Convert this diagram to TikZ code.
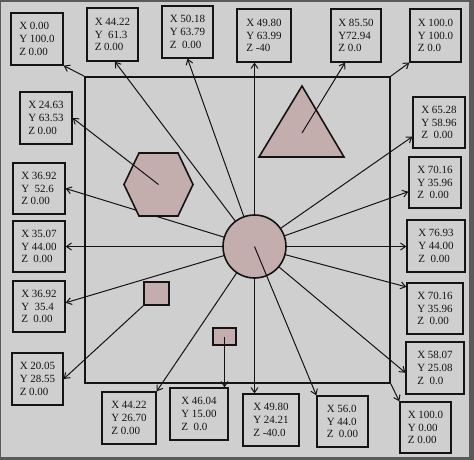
\documentclass[tikz,border=0pt]{standalone}
\usepackage{fontspec}
\setmainfont{Liberation Serif}
\usetikzlibrary{arrows.meta,calc}
\pgfdeclarelayer{bgl}
\pgfdeclarelayer{lines}
\pgfsetlayers{bgl,lines,main}
\definecolor{bggray}{RGB}{207,207,207}
\definecolor{edgegray}{RGB}{90,90,90}
\definecolor{shapefill}{RGB}{196,173,173}
\definecolor{ink}{RGB}{20,20,20}
\tikzset{
  box/.style={draw=ink, line width=1.3pt, fill=bggray, inner sep=0pt, align=left,
    font=\fontsize{11}{12.8}\selectfont, text=ink},
  arr/.style={draw=ink, line width=1pt, -{Straight Barb[length=5pt,width=7pt]}},
  shp/.style={draw=ink, line width=1.6pt, fill=shapefill},
}
\begin{document}
\begin{tikzpicture}[x=1pt,y=-1pt]
\useasboundingbox (0,0) rectangle (474,460);
\begin{pgfonlayer}{bgl}
\fill[edgegray] (0,0) rectangle (474,460);
\fill[bggray] (1,2) rectangle (469,457);
\end{pgfonlayer}
% main frame
\node[draw=ink, line width=1.7pt, inner sep=0pt, minimum width=305, minimum height=306] (frame) at (237.5,230) {};
% shapes
\node[shp, circle, inner sep=0pt, minimum size=63] (circ) at (254.5,246.5) {};
\coordinate (hexc) at (158.5,184.5);
\coordinate (tric) at (302,133);
\draw[shp] (124,184.5) -- (139,153) -- (178,153) -- (193,184.5) -- (178,216) -- (139,216) -- cycle;
\draw[shp] (302,86) -- (344,157) -- (259,157) -- cycle;
\node[shp, inner sep=0pt, minimum width=25, minimum height=23] (sq1) at (156.5,293.5) {};
\node[shp, inner sep=0pt, minimum width=23, minimum height=17] (sq2) at (224.5,336.5) {};
% boxes
\node[box, minimum width=52, minimum height=52] (b1) at (37,39) {X 0.00\\Y 100.0\\Z 0.00};
\node[box, minimum width=51, minimum height=53] (b2) at (112.5,34.5) {X 44.22\\Y~~61.3\\Z 0.00};
\node[box, minimum width=51, minimum height=52] (b3) at (187.5,32) {X 50.18\\Y 63.79\\Z~~0.00};
\node[box, minimum width=54, minimum height=53] (b4) at (264,35.5) {X 49.80\\Y 63.99\\Z -40};
\node[box, minimum width=50, minimum height=53] (b5) at (356,35.5) {X 85.50\\Y72.94\\Z 0.0};
\node[box, minimum width=51, minimum height=53] (b6) at (435.5,35.5) {X 100.0\\Y 100.0\\Z 0.0};
\node[box, minimum width=52, minimum height=52] (b7) at (46,118) {X 24.63\\Y 63.53\\Z 0.00};
\node[box, minimum width=52, minimum height=51] (b8) at (39,188.5) {X 36.92\\Y~~52.6\\Z 0.00};
\node[box, minimum width=52, minimum height=51] (b9) at (39,246.5) {X 35.07\\Y 44.00\\Z~~0.00};
\node[box, minimum width=52, minimum height=51] (b10) at (39,306.5) {X 36.92\\Y~~35.4\\Z~~0.00};
\node[box, minimum width=51, minimum height=52] (b11) at (37.5,379) {X 20.05\\Y 28.55\\Z 0.00};
\node[box, minimum width=52, minimum height=51] (b12) at (439,122.5) {X 65.28\\Y 58.96\\Z~~0.00};
\node[box, minimum width=52, minimum height=51] (b13) at (435,182.5) {X 70.16\\Y 35.96\\Z~~0.00};
\node[box, minimum width=58, minimum height=52] (b14) at (436,246) {X 76.93\\Y 44.00\\Z~~0.00};
\node[box, minimum width=56, minimum height=51] (b15) at (435,308.5) {X 70.16\\Y 35.96\\Z~~0.00};
\node[box, minimum width=58, minimum height=52] (b16) at (435,368) {X 58.07\\Y 25.08\\Z~~0.0};
\node[box, minimum width=51, minimum height=51] (b17) at (425.5,427.5) {X 100.0\\Y 0.00\\Z 0.00};
\node[box, minimum width=54, minimum height=52] (b18) at (129,418) {X 44.22\\Y 26.70\\Z 0.00};
\node[box, minimum width=58, minimum height=52] (b19) at (199,414) {X 46.04\\Y 15.00\\Z~~0.0};
\node[box, minimum width=56, minimum height=52] (b20) at (271,420) {X 49.80\\Y 24.21\\Z -40.0};
\node[box, minimum width=51, minimum height=51] (b21) at (342.5,421.5) {X 56.0\\Y 44.0\\Z~~0.00};
% connectors behind the shapes
\begin{pgfonlayer}{lines}
\draw[arr] (frame.north west) -- (b1.south east);
\draw[arr] (circ.center) -- (b2.-85);
\draw[arr] (circ.center) -- (b3.south);
\draw[arr] (circ.center) -- (circ.center |- b4.south);
\draw[arr] (frame.north east) -- (b6.south west);
\draw[arr] (circ.center) -- (b8.east);
\draw[arr] (circ.center) -- (circ.center -| b9.east);
\draw[arr] (circ.center) -- (b10.8);
\draw[arr] (sq1.south west) -- (b11.east);
\draw[arr] (circ.center) -- (b12.208);
\draw[arr] (circ.center) -- (b13.199);
\draw[arr] (circ.center) -- (circ.center -| b14.west);
\draw[arr] (circ.center) -- (b15.143);
\draw[arr] (circ.center) -- (b16.189);
\draw[arr] (frame.south east) -- (b17.north west);
\draw[arr] (circ.center) -- (b18.north east);
\draw[arr] (circ.center) -- (circ.center |- b20.north);
\end{pgfonlayer}
% connectors over their own shapes
\draw[arr] (hexc) -- (b7.east);
\draw[arr] (tric) -- (b5.-112);
\draw[arr] (sq2.center) -- (sq2.center |- b19.north);
\draw[arr] (circ.center) -- (b21.north west);
\end{tikzpicture}
\end{document}
